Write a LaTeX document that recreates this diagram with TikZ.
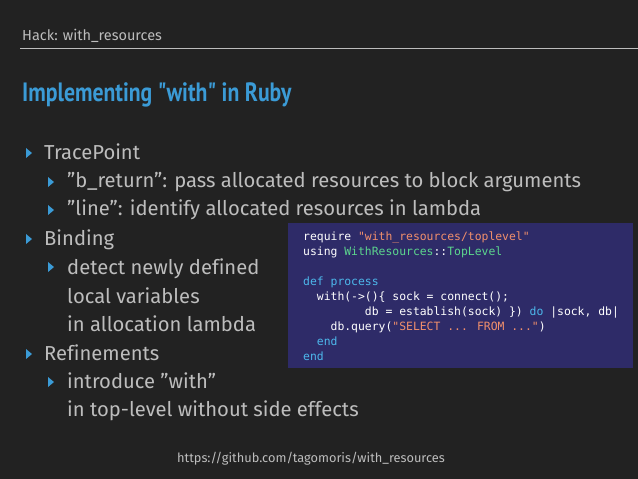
\documentclass[tikz,border=0pt]{standalone}
\usepackage{fontspec}
\setmainfont{Fira Sans}[Ligatures=NoCommon]
\newfontfamily\titlefont{PT Sans}
\newfontfamily\codefont{DejaVu Sans Mono}
\definecolor{slidebg}{HTML}{222222}
\definecolor{bodygray}{HTML}{BDBDBD}
\definecolor{titleblue}{HTML}{3B9BD6}
\definecolor{codebg}{HTML}{2E2B68}
\definecolor{kwcyan}{HTML}{4DB8EC}
\definecolor{strsalmon}{HTML}{F2906C}
\definecolor{constgreen}{HTML}{5CD68E}
\tikzset{
  txt/.style={anchor=base west, inner sep=0pt, text=bodygray, font=\fontsize{20.2}{24}\selectfont},
  codeline/.style={anchor=base west, inner sep=0pt, text=white, font=\codefont\fontsize{11.4}{13}\selectfont},
  bullet/.style={fill=titleblue, draw=none}
}
\newcommand{\dq}{\char34\relax}
\newcommand{\kw}[1]{\textcolor{kwcyan}{#1}}
\newcommand{\str}[1]{\textcolor{strsalmon}{#1}}
\newcommand{\cst}[1]{\textcolor{constgreen}{#1}}

\begin{document}
\begin{tikzpicture}[x=1pt, y=-1pt]
      \fill[slidebg] (0,0) rectangle (638,479);
      \useasboundingbox (0,0) rectangle (638,479);

      % Header
      \node[anchor=base west, inner sep=0pt, text=bodygray, font=\fontsize{14.5}{16}\selectfont] (hdr) at (22,40) {Hack: with\_resources};
      \draw[bodygray, line width=1pt] (20,48) -- (638,48);
      \node[anchor=base west, inner sep=0pt, text=titleblue] (ttl) at (22,101)
        {\scalebox{0.82}[1]{\titlefont\bfseries\fontsize{26.5}{30}\selectfont Implementing \dq with\dq{} in Ruby}};

      % Bullets
      \foreach \bx/\by in {26/153, 26/239, 26/354, 48/182, 48/210, 48/267, 48/382}
        \fill[bullet] (\bx,\by-5) -- (\bx+6,\by) -- (\bx,\by+5) -- cycle;

      % Body text
      \node[txt] (tp) at (44,159) {TracePoint};
      \node[txt] (br) at (67,187) {\dq b\_return\dq: pass allocated resources to block arguments};
      \node[txt] (ln) at (67,215) {\dq line\dq: identify allocated resources in lambda};
      \node[txt] (bd) at (44,245) {Binding};
      \node[txt] (dt) at (67,274) {detect newly defined};
      \node[txt] (lv) at (67,303) {local variables};
      \node[txt] (ia) at (67,331) {in allocation lambda};
      \node[txt] (rf) at (44,360) {Refinements};
      \node[txt] (iw) at (67,388) {introduce \dq with\dq};
      \node[txt] (tl) at (67,416) {in top-level without side effects};

      % Code box
      \fill[codebg] (288,223) rectangle (633,368);
      \node[codeline] (c1) at (303,240) {require \str{\dq with\_resources/toplevel\dq}};
      \node[codeline] (c2) at (303,255) {using \cst{WithResources}::\cst{TopLevel}};
      \node[codeline] (c3) at (303,285) {\kw{def} \kw{process}};
      \node[codeline] (c4) at (303,300) {\ \ with(->()\{ sock = connect();};
      \node[codeline] (c5) at (303,315) {\ \ \ \ \ \ \ \ \ db = establish(sock) \}) \kw{do} |sock, db|};
      \node[codeline] (c6) at (303,330) {\ \ \ \ db.query(\str{\dq SELECT ... FROM ...\dq})};
      \node[codeline] (c7) at (303,345) {\ \ \kw{end}};
      \node[codeline] (c8) at (303,360) {\kw{end}};

      % Footer
      \node[anchor=base, inner sep=0pt, text=bodygray, font=\fontsize{12.8}{15}\selectfont] (url) at (311,462) {https://github.com/tagomoris/with\_resources};
\end{tikzpicture}
\end{document}
